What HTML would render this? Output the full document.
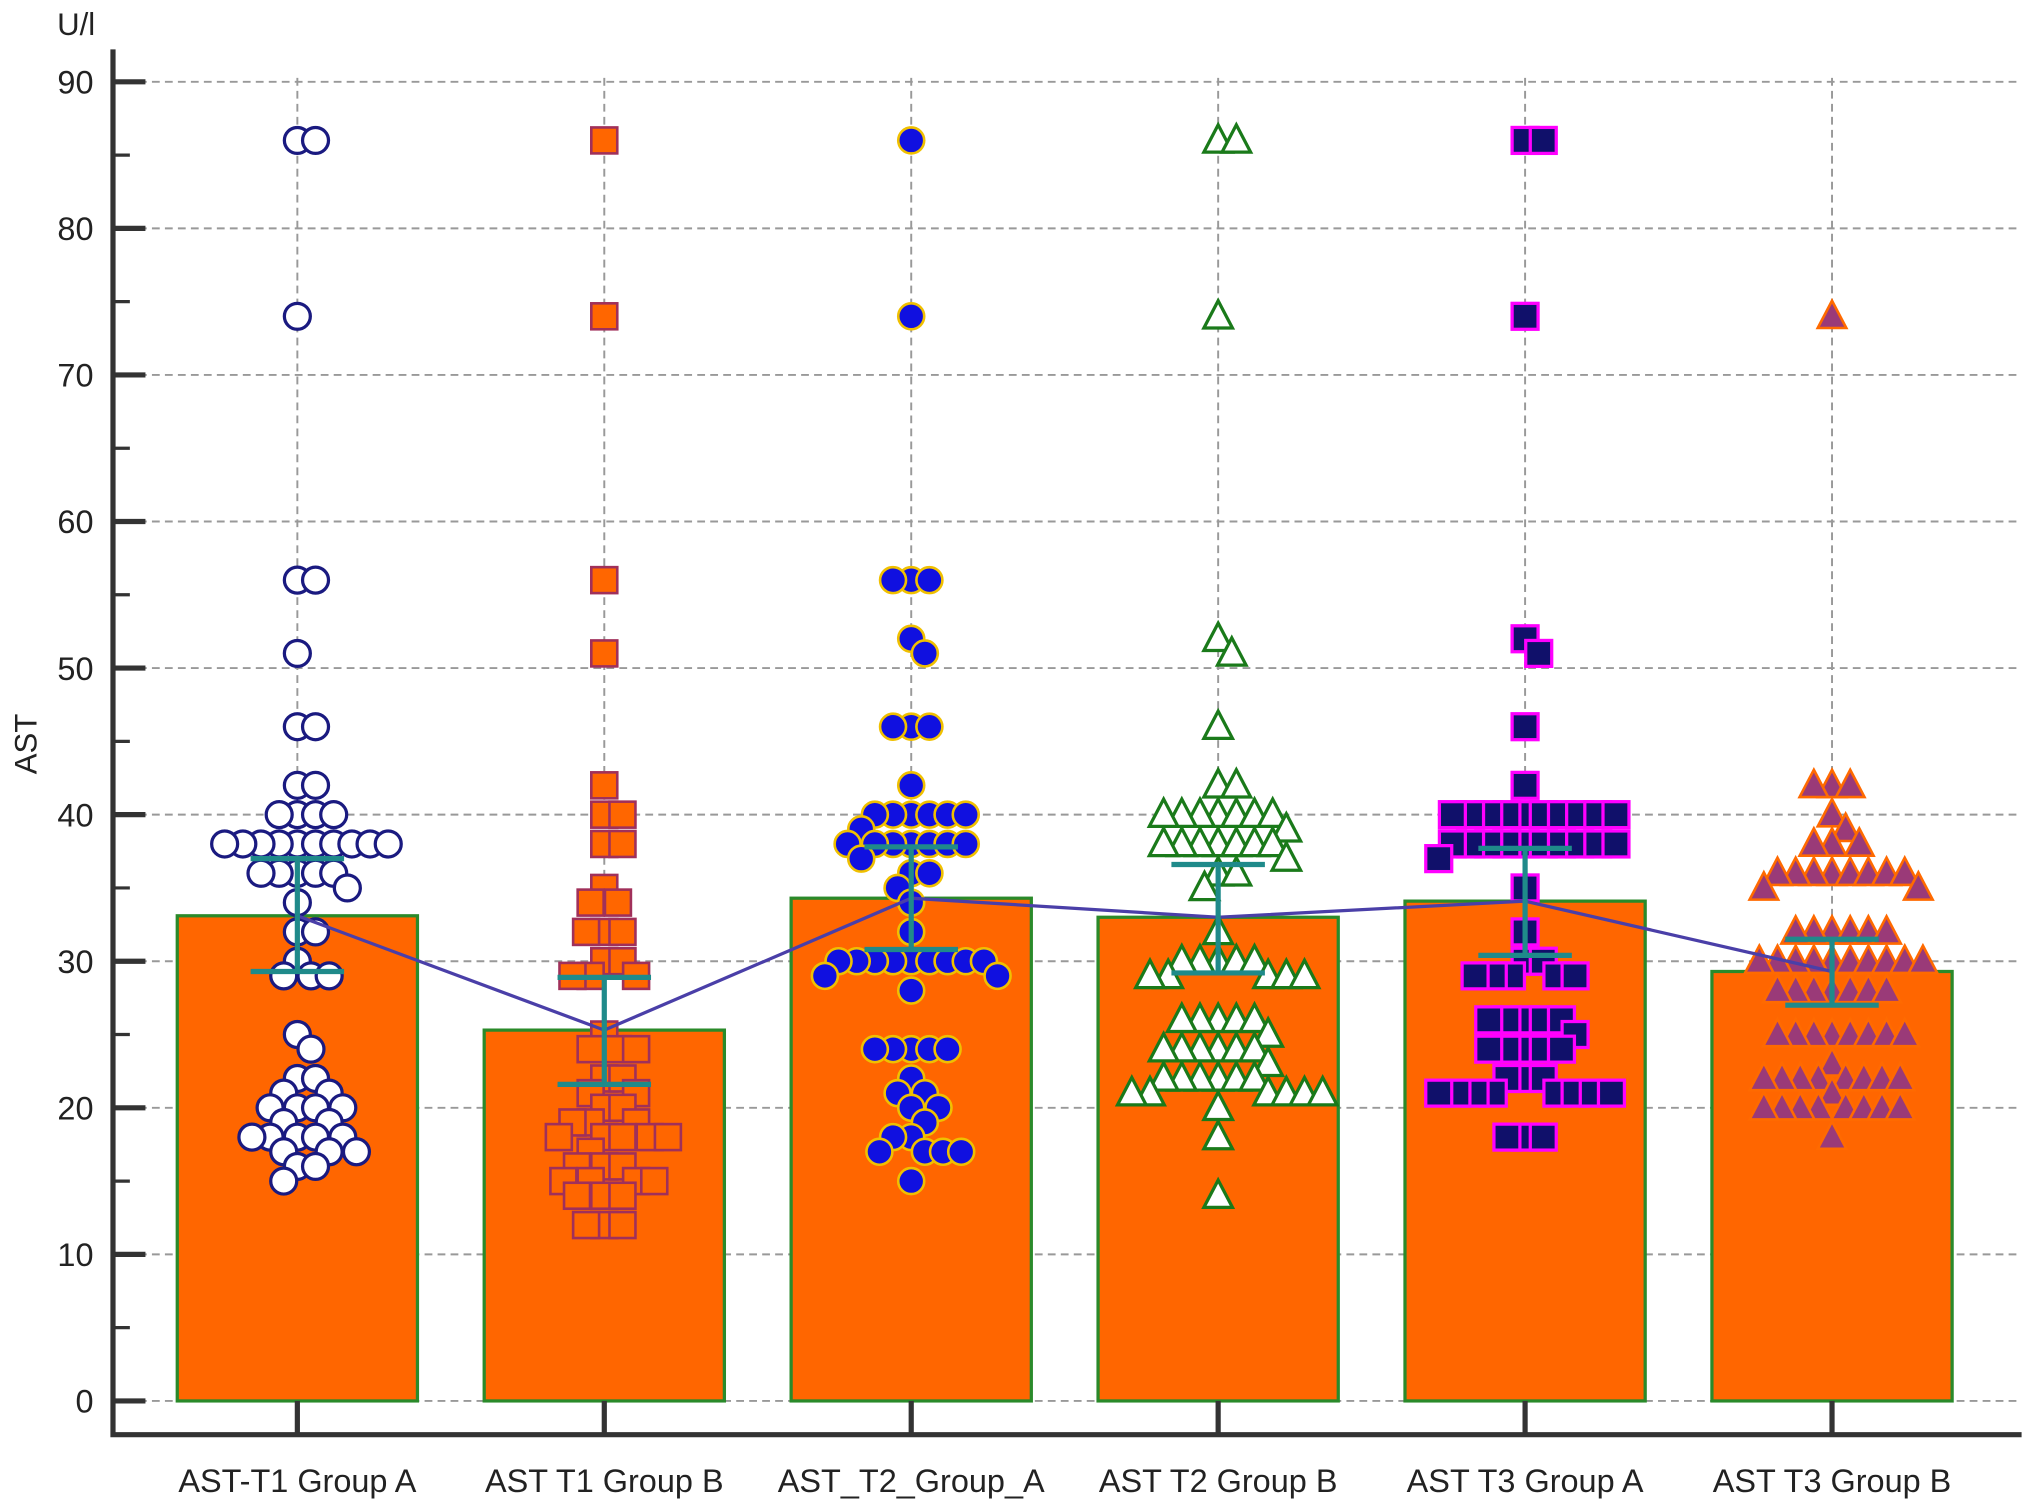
<!DOCTYPE html>
<html><head><meta charset="utf-8"><style>html,body{margin:0;padding:0;background:#fff}svg{display:block}text{font-family:"Liberation Sans",Arial,sans-serif;fill:#222}</style></head>
<body>
<svg id="chart" width="2032" height="1510" viewBox="0 0 1565 1163" xmlns="http://www.w3.org/2000/svg">
<g id="grid"></g>
<g id="bars"></g>
<g id="pts"></g>
<g id="stats"></g>
<g id="axes"></g>
<text x="44" y="27" font-size="24">U/l</text>
<text x="28" y="573" font-size="24" text-anchor="middle" transform="rotate(-90 28 573)">AST</text>
</svg>
<script>
const categories=["AST-T1 Group A","AST T1 Group B","AST_T2_Group_A","AST T2 Group B","AST T3 Group A","AST T3 Group B"];
const means=[33.1,25.3,34.3,33.0,34.1,29.3];
const errLow=[29.3,21.6,30.8,29.2,30.4,27.0];
const errHigh=[37.0,28.9,37.8,36.6,37.7,31.5];
const yTicks=[0,10,20,30,40,50,60,70,80,90];
const valsA=[86,86,74,56,56,51,46,46,42,42,40,40,40,40,38,38,38,38,38,38,38,38,38,38,36,36,36,36,36,35,34,32,32,30,29,29,29,25,24,22,22,21,21,20,20,20,20,19,19,18,18,18,18,18,17,17,17,16,16,15];
const valsB=[86,74,56,51,42,40,40,38,38,35,34,34,32,32,32,30,30,29,29,29,25,24,24,24,22,22,21,21,20,20,19,19,19,18,18,18,18,18,17,16,16,16,15,15,15,15,14,14,14,12,12,12];
const valsC=[86,74,56,56,56,52,51,46,46,46,42,40,40,40,40,40,40,39,38,38,38,38,38,38,38,37,36,36,35,34,32,30,30,30,30,30,30,30,30,30,29,29,28,24,24,24,24,24,22,21,21,20,20,19,18,18,17,17,17,17,15];
const valsD=[86,86,74,52,51,46,42,42,40,40,40,40,40,40,40,39,38,38,38,38,38,38,38,37,36,36,35,32,30,30,30,30,30,29,29,29,29,29,26,26,26,26,26,25,24,24,24,24,24,24,23,22,22,22,22,22,22,21,21,21,21,21,21,20,18,14];
const valsE=[86,86,74,52,51,46,42,40,40,40,40,40,40,40,40,40,40,38,38,38,38,38,38,38,38,38,38,37,35,32,30,30,29,29,29,29,29,26,26,26,26,26,25,24,24,24,24,24,22,22,22,21,21,21,21,21,21,21,21,18,18,18];
const valsF=[74,42,42,42,40,39,38,38,38,36,36,36,36,36,36,36,36,35,35,32,32,32,32,32,32,30,30,30,30,30,30,30,30,30,30,28,28,28,28,28,28,28,25,25,25,25,25,25,25,25,23,22,22,22,22,22,22,22,22,21,20,20,20,20,20,20,20,20,18];
const groups=[valsA,valsB,valsC,valsD,valsE,valsF];
const NS="http://www.w3.org/2000/svg";
const X0=87,X1=1557;
function xs(i){return 229+i*236.4;}
function ys(v){return 1079-v*(1016/90);}
function mk(tag,at,parent){const e=document.createElementNS(NS,tag);for(const k in at)e.setAttribute(k,at[k]);parent.appendChild(e);return e;}
const grid=document.getElementById('grid'),bars=document.getElementById('bars'),pts=document.getElementById('pts'),stats=document.getElementById('stats'),axes=document.getElementById('axes');
yTicks.forEach(t=>{const l=mk('line',{x1:X0,x2:X1,y1:ys(t),y2:ys(t),stroke:'#999','stroke-width':1.5,'stroke-dasharray':'6 4'},grid);

const tk=mk('line',{x1:X0,x2:112,y1:ys(t),y2:ys(t),stroke:'#333','stroke-width':4},axes);

const tx=mk('text',{x:72,y:ys(t)+9,'font-size':25,'text-anchor':'end'},axes);tx.textContent=t;

if(t<90){const m=mk('line',{x1:X0,x2:100,y1:ys(t+5),y2:ys(t+5),stroke:'#333','stroke-width':2.5},axes);
}});
categories.forEach((c,i)=>{const x=xs(i);
const vl=mk('line',{x1:x,x2:x,y1:60,y2:1079,stroke:'#999','stroke-width':1.5,'stroke-dasharray':'6 4'},grid);

const b=mk('rect',{x:x-92.5,y:ys(means[i]),width:185,height:ys(0)-ys(means[i]),fill:'#ff6600',stroke:'#2a8a2a','stroke-width':2.5},bars);

const tx=mk('text',{x:x,y:1149,'font-size':25,'text-anchor':'middle'},axes);tx.textContent=c;

const tk=mk('line',{x1:x,x2:x,y1:1079,y2:1105,stroke:'#333','stroke-width':4},axes);
});
const styles=[
 {shape:'circle',fill:'#fff',stroke:'#1a1a80',sw:2.5},
 {shape:'square',fill:'#ff6600',stroke:'#a0305a',sw:2},
 {shape:'circle',fill:'#1010e0',stroke:'#f0c000',sw:2},
 {shape:'tri',fill:'#fff',stroke:'#1a7a1a',sw:2.5},
 {shape:'square',fill:'#10106a',stroke:'#ff00ff',sw:2.5},
 {shape:'tri',fill:'#9a3a78',stroke:'#ff6a00',sw:2}];
const MIN=14;
groups.forEach((vals,i)=>{const st=styles[i];const placed=[];
vals.forEach(v=>{const y=ys(v);let off=0;
for(let k=0;k<200;k++){const cand=(k%2?1:-1)*Math.ceil(k/2)*3.5;
if(placed.every(p=>Math.hypot(p[0]-cand,p[1]-y)>=MIN)){off=cand;break;}}
placed.push([off,y]);const x=xs(i)+off;let e;
if(st.shape==='circle')e=mk('circle',{cx:x,cy:y,r:10},pts);
else if(st.shape==='square')e=mk('rect',{x:x-10,y:y-10,width:20,height:20},pts);
else e=mk('polygon',{points:`${x},${y-12} ${x+11},${y+9} ${x-11},${y+9}`},pts);
e.setAttribute('fill',st.fill);e.setAttribute('stroke',st.stroke);e.setAttribute('stroke-width',st.sw);

});});
const ml=mk('polyline',{points:means.map((m,i)=>xs(i)+','+ys(m)).join(' '),fill:'none',stroke:'#4a3fa8','stroke-width':2.5},stats);

means.forEach((m,i)=>{const x=xs(i);
const e=mk('path',{d:`M${x},${ys(errLow[i])}V${ys(errHigh[i])}M${x-36},${ys(errLow[i])}H${x+36}M${x-36},${ys(errHigh[i])}H${x+36}`,stroke:'#1f8a8a','stroke-width':4,fill:'none'},stats);
});
const ax=mk('path',{d:`M${X0},38V1105H${X1}`,stroke:'#333','stroke-width':4,fill:'none'},axes);

</script>
</body></html>
